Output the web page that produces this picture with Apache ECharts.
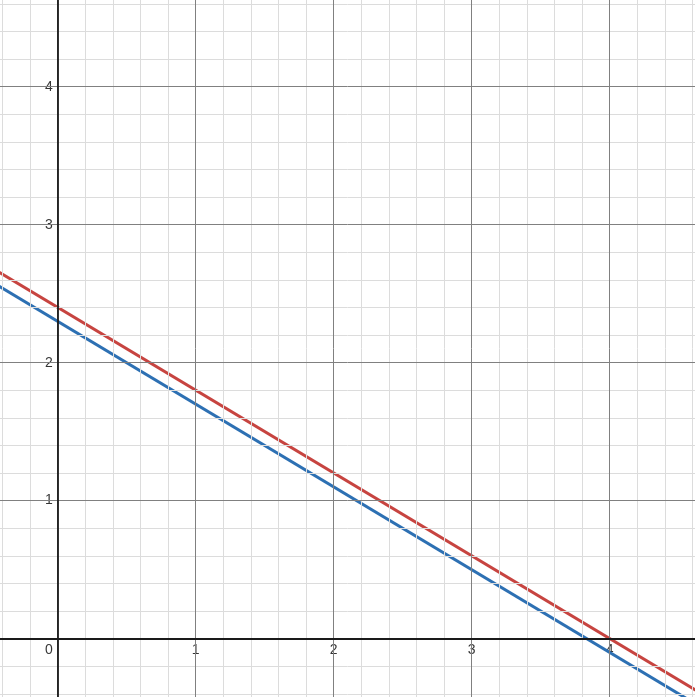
<!DOCTYPE html>
<html>
<head>
<meta charset="utf-8">
<script src="https://cdn.jsdelivr.net/npm/echarts@6/dist/echarts.min.js"></script>
<style>
html,body{margin:0;padding:0;background:#fff;}
#chart{width:695px;height:697px;}
</style>
</head>
<body>
<div id="chart"></div>
<script>
// Data
var lineX = [-1, 5];
var redY = [3.0, -0.6];   // passes (0, 2.4) and (4, 0)
var blueY = [2.9, -0.7];  // passes (0, 2.3)
var xTickLabels = [1, 2, 3, 4];
var yTickLabels = [1, 2, 3, 4];
var majorTicks = [-1, 0, 1, 2, 3, 4, 5];
var minorTicks = [-0.8, -0.6, -0.4, -0.2, 0.2, 0.4, 0.6, 0.8, 1.2, 1.4, 1.6, 1.8,
  2.2, 2.4, 2.6, 2.8, 3.2, 3.4, 3.6, 3.8, 4.2, 4.4, 4.6, 4.8];
var xRange = [-0.418, 4.618];
var yRange = [-0.423, 4.628];

var chart = echarts.init(document.getElementById('chart'));
var font = {
  fontFamily: 'Liberation Sans, Arial, sans-serif',
  fontSize: 14,
  color: '#000',
  textBorderColor: '#fff',
  textBorderWidth: 3
};
function vLines(vals) {
  return vals.map(function (v) { return {xAxis: v}; })
    .concat(vals.map(function (v) { return {yAxis: v}; }));
}
function gridSeries(vals, color, width, z) {
  return {
    type: 'line', data: [], z: z, silent: true,
    markLine: {
      silent: true, symbol: ['none', 'none'], animation: false,
      label: {show: false},
      lineStyle: {color: color, width: width, type: 'solid'},
      emphasis: {disabled: true},
      data: vLines(vals)
    }
  };
}
function labelSeries(data, pos, dist, offset) {
  return {
    type: 'scatter', z: 2, silent: true, symbolSize: 0.01,
    itemStyle: {color: 'rgba(0,0,0,0)'},
    data: data,
    label: Object.assign({show: true, position: pos, distance: dist, offset: offset,
      formatter: function (p) { return p.data[2]; }}, font)
  };
}
var option = {
  animation: false,
  backgroundColor: '#fff',
  grid: {left: 0, right: 0, top: 0, bottom: 0, containLabel: false},
  xAxis: {type: 'value', min: xRange[0], max: xRange[1], show: false, splitLine: {show: false}},
  yAxis: {type: 'value', min: yRange[0], max: yRange[1], show: false, splitLine: {show: false}},
  series: [
    gridSeries(minorTicks, '#dcdcdc', 1, 0),
    gridSeries(majorTicks, '#808080', 1, 1),
    gridSeries([0], '#1a1a1a', 1.8, 1.5),
    labelSeries(xTickLabels.map(function (v) { return [v, 0, String(v)]; }), 'bottom', 5, [0, 0]),
    labelSeries(yTickLabels.map(function (v) { return [0, v, String(v)]; }), 'left', 5, [0, 0]),
    labelSeries([[0, 0, '0']], 'left', 5, [0, 12]),
    {type: 'line', z: 3, symbol: 'none', silent: true,
     data: lineX.map(function (x, i) { return [x, redY[i]]; }),
     lineStyle: {color: '#c74440', width: 3}},
    {type: 'line', z: 3, symbol: 'none', silent: true,
     data: lineX.map(function (x, i) { return [x, blueY[i]]; }),
     lineStyle: {color: '#2d70b3', width: 3}}
  ]
};
chart.setOption(option);
</script>
</body>
</html>
